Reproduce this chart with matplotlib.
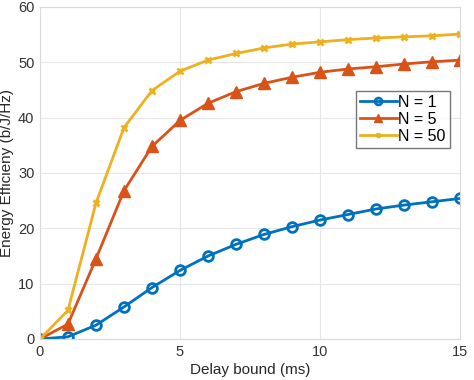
import matplotlib
matplotlib.use("Agg")
import matplotlib.pyplot as plt

plt.rcParams['font.family'] = ['Liberation Sans', 'DejaVu Sans']

delay = list(range(0, 16))
ee_n1 = [0, 0.4, 2.5, 5.8, 9.3, 12.4, 15.0, 17.1, 18.9, 20.3, 21.5, 22.5, 23.5, 24.2, 24.8, 25.4]
ee_n5 = [0, 2.7, 14.5, 26.8, 34.8, 39.5, 42.6, 44.7, 46.2, 47.3, 48.2, 48.8, 49.2, 49.7, 50.1, 50.4]
ee_n50 = [0, 5.2, 24.6, 38.2, 44.9, 48.4, 50.4, 51.6, 52.6, 53.3, 53.7, 54.1, 54.4, 54.6, 54.8, 55.1]
labels = ['N = 1', 'N = 5', 'N = 50']
xticks = [0, 5, 10, 15]
yticks = [0, 10, 20, 30, 40, 50, 60]

fig = plt.figure(figsize=(4.74, 3.8), dpi=100)
ax = fig.add_axes([40/474, 41/380, 420/474, 332/380])

ax.plot(delay, ee_n1, color='#0072BD', lw=2, marker='o', ms=7, mfc='none', mew=2, label=labels[0])
ax.plot(delay, ee_n5, color='#D95319', lw=2, marker='^', ms=8, mfc='#D95319', label=labels[1])
ax.plot(delay, ee_n50, color='#EDB120', lw=2, marker='x', ms=5, mew=2, label=labels[2])

ax.set_xlim(0, 15)
ax.set_ylim(0, 60)
ax.set_xticks(xticks)
ax.set_yticks(yticks)
ax.grid(True, color='#e6e6e6', lw=0.8)
ax.set_axisbelow(True)
for s in ax.spines.values():
    s.set_color('#d9d9d9')
    s.set_linewidth(0.8)
ax.tick_params(length=0, labelsize=10.5, colors='#333333', pad=4)
ax.set_xlabel('Delay bound (ms)', fontsize=11, color='#262626', labelpad=3)
ax.set_ylabel('Energy Efficieny (b/J/Hz)', fontsize=11, color='#262626', labelpad=3)

leg = ax.legend(loc='upper left', bbox_to_anchor=((356-40)/420, (339-91)/332),
                fontsize=11.5, frameon=True, fancybox=False, handlelength=2.3,
                handletextpad=0.1, borderpad=0.25, labelspacing=0.12, borderaxespad=0,
                markerscale=0.7)
leg.get_frame().set_edgecolor('#555555')
leg.get_frame().set_linewidth(1)

fig.savefig('out.png', dpi=100)
